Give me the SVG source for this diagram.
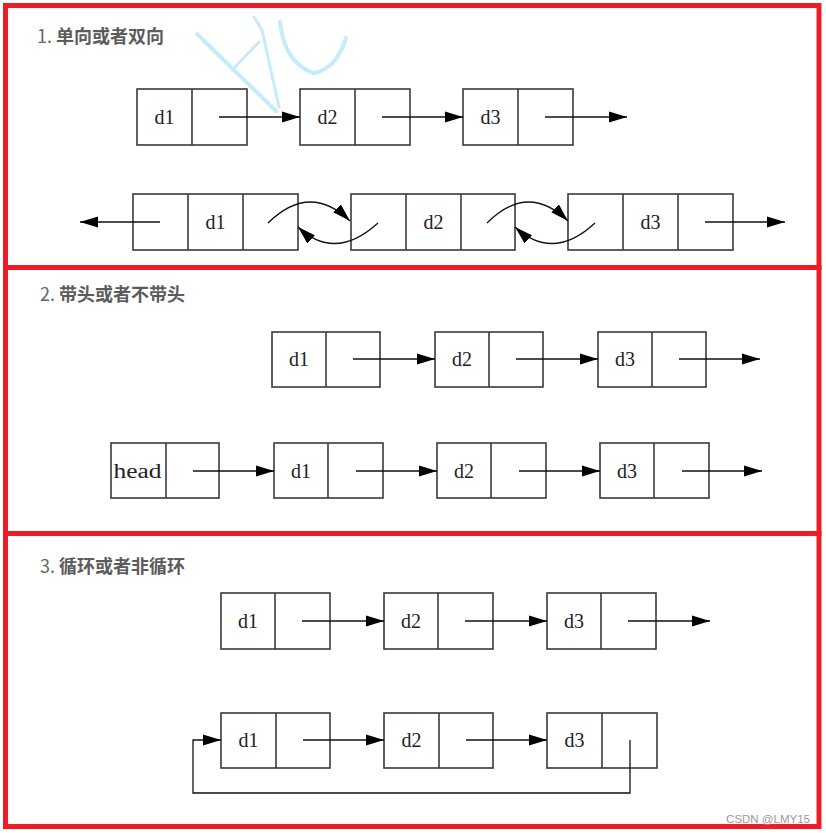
<svg xmlns="http://www.w3.org/2000/svg" width="826" height="833" viewBox="0 0 826 833">
<style>
.frame{fill:none;stroke:#ee1c25;stroke-width:5}
.box{fill:none;stroke:#3a3a3a;stroke-width:1.6}
.lbl{font-family:"Liberation Serif","DejaVu Serif",serif;font-size:20px;fill:#222;text-anchor:middle}
.ln{fill:none;stroke:#111;stroke-width:1.3}
.arr{marker-end:url(#ah)}
.hd{font-family:"Noto Sans CJK SC","Noto Sans",sans-serif;font-size:18px;fill:#666}
.hd .b{font-weight:bold;fill:#5c5c5c}
.wm{fill:none;stroke:#c6ebfb;stroke-linecap:round;stroke-linejoin:round}
</style>
<defs>
<marker id="ah" markerUnits="userSpaceOnUse" markerWidth="18" markerHeight="12" refX="18" refY="5.5" orient="auto" viewBox="0 0 18 11">
<path d="M0,0 L18,5.5 L0,11 Z" fill="#000"/>
</marker>
</defs>
<rect width="826" height="833" fill="#fff"/>
<!-- watermark -->
<g id="watermark">
<path class="wm" stroke-width="4" d="M197,34 L276,111"/>
<path class="wm" stroke-width="3" d="M254,17 L262,30 L279,107"/>
<path class="wm" stroke-width="3" d="M232,70 L259,42"/>
<path class="wm" stroke-width="4" d="M280,22 Q284,62 313,73 Q336,70 346,38"/>
</g>
<!-- frames -->
<g id="frames">
<rect class="frame" x="5.5" y="5.5" width="813.5" height="262"/>
<rect class="frame" x="5.5" y="267.5" width="813.5" height="266"/>
<rect class="frame" x="5.5" y="533.5" width="813.5" height="293"/>
</g>
<!-- headings -->
<text class="hd" x="37" y="43">1. <tspan class="b">单向或者双向</tspan></text>
<text class="hd" x="40" y="301">2. <tspan class="b">带头或者不带头</tspan></text>
<text class="hd" x="40" y="573">3. <tspan class="b">循环或者非循环</tspan></text>
<text x="810" y="823" text-anchor="end" font-family="Liberation Sans, Arial, sans-serif" font-size="11.5" fill="#9a9a9a">CSDN @LMY15</text>

<!-- Section 1 row 1 -->
<g id="s1r1n1"><rect class="box" x="137" y="89" width="110" height="56"/><line class="box" x1="192" y1="89" x2="192" y2="145"/><text class="lbl" x="164.5" y="124">d1</text></g>
<g id="s1r1n2"><rect class="box" x="300" y="89" width="110" height="56"/><line class="box" x1="355" y1="89" x2="355" y2="145"/><text class="lbl" x="327.5" y="124">d2</text></g>
<g id="s1r1n3"><rect class="box" x="463" y="89" width="110" height="56"/><line class="box" x1="518" y1="89" x2="518" y2="145"/><text class="lbl" x="490.5" y="124">d3</text></g>

<!-- Section 1 row 2 -->
<g id="s1r2n1"><rect class="box" x="133" y="194" width="165" height="56"/><line class="box" x1="188" y1="194" x2="188" y2="250"/><line class="box" x1="243" y1="194" x2="243" y2="250"/><text class="lbl" x="215.5" y="229">d1</text></g>
<g id="s1r2n2"><rect class="box" x="351" y="194" width="164" height="56"/><line class="box" x1="406" y1="194" x2="406" y2="250"/><line class="box" x1="461" y1="194" x2="461" y2="250"/><text class="lbl" x="433.5" y="229">d2</text></g>
<g id="s1r2n3"><rect class="box" x="568" y="194" width="165" height="56"/><line class="box" x1="623" y1="194" x2="623" y2="250"/><line class="box" x1="678" y1="194" x2="678" y2="250"/><text class="lbl" x="650.5" y="229">d3</text></g>

<!-- Section 2 row 1 -->
<g id="s2r1n1"><rect class="box" x="272" y="332" width="108" height="55"/><line class="box" x1="326" y1="332" x2="326" y2="387"/><text class="lbl" x="299" y="366">d1</text></g>
<g id="s2r1n2"><rect class="box" x="435" y="332" width="108" height="55"/><line class="box" x1="489" y1="332" x2="489" y2="387"/><text class="lbl" x="462" y="366">d2</text></g>
<g id="s2r1n3"><rect class="box" x="598" y="332" width="108" height="55"/><line class="box" x1="652" y1="332" x2="652" y2="387"/><text class="lbl" x="625" y="366">d3</text></g>

<!-- Section 2 row 2 -->
<g id="s2r2head"><rect class="box" x="111" y="443" width="108" height="55"/><line class="box" x1="166" y1="443" x2="166" y2="498"/><text class="lbl" x="137.5" y="478" textLength="48" lengthAdjust="spacingAndGlyphs">head</text></g>
<g id="s2r2n1"><rect class="box" x="274" y="443" width="109" height="55"/><line class="box" x1="328" y1="443" x2="328" y2="498"/><text class="lbl" x="301" y="478">d1</text></g>
<g id="s2r2n2"><rect class="box" x="437" y="443" width="109" height="55"/><line class="box" x1="491" y1="443" x2="491" y2="498"/><text class="lbl" x="464" y="478">d2</text></g>
<g id="s2r2n3"><rect class="box" x="600" y="443" width="109" height="55"/><line class="box" x1="654" y1="443" x2="654" y2="498"/><text class="lbl" x="627" y="478">d3</text></g>

<!-- Section 3 row 1 -->
<g id="s3r1n1"><rect class="box" x="221" y="593" width="109" height="56"/><line class="box" x1="275" y1="593" x2="275" y2="649"/><text class="lbl" x="248" y="628">d1</text></g>
<g id="s3r1n2"><rect class="box" x="384" y="593" width="109" height="56"/><line class="box" x1="438" y1="593" x2="438" y2="649"/><text class="lbl" x="411" y="628">d2</text></g>
<g id="s3r1n3"><rect class="box" x="547" y="593" width="109" height="56"/><line class="box" x1="601" y1="593" x2="601" y2="649"/><text class="lbl" x="574" y="628">d3</text></g>

<!-- Section 3 row 2 -->
<g id="s3r2n1"><rect class="box" x="221" y="713" width="109" height="55"/><line class="box" x1="276" y1="713" x2="276" y2="768"/><text class="lbl" x="248.5" y="747">d1</text></g>
<g id="s3r2n2"><rect class="box" x="384" y="713" width="109" height="55"/><line class="box" x1="439" y1="713" x2="439" y2="768"/><text class="lbl" x="411.5" y="747">d2</text></g>
<g id="s3r2n3"><rect class="box" x="547" y="713" width="110" height="55"/><line class="box" x1="602" y1="713" x2="602" y2="768"/><text class="lbl" x="574.5" y="747">d3</text></g>

<!-- connectors -->
<g id="connectors">
<path class="ln arr" d="M219,117 L300,117"/>
<path class="ln arr" d="M382,117 L463,117"/>
<path class="ln arr" d="M545,117 L627,117"/>

<path class="ln arr" d="M160,222 L80,222"/>
<path class="ln arr" d="M268,223 Q310,182 350,221"/>
<path class="ln arr" d="M378,223 Q335,262 298,227"/>
<path class="ln arr" d="M487,223 Q528,182 568,221"/>
<path class="ln arr" d="M595,223 Q553,262 515,227"/>
<path class="ln arr" d="M705,222 L785,222"/>

<path class="ln arr" d="M353,359 L435,359"/>
<path class="ln arr" d="M516,359 L598,359"/>
<path class="ln arr" d="M679,359 L760,359"/>

<path class="ln arr" d="M193,471 L274,471"/>
<path class="ln arr" d="M356,471 L437,471"/>
<path class="ln arr" d="M519,471 L600,471"/>
<path class="ln arr" d="M682,471 L762,471"/>

<path class="ln arr" d="M302,621 L384,621"/>
<path class="ln arr" d="M465,621 L547,621"/>
<path class="ln arr" d="M628,621 L710,621"/>

<path class="ln arr" d="M303,740 L384,740"/>
<path class="ln arr" d="M466,740 L547,740"/>
<path class="ln arr" d="M630,740 L630,793 L193,793 L193,740 L221,740"/>
</g>
</svg>
